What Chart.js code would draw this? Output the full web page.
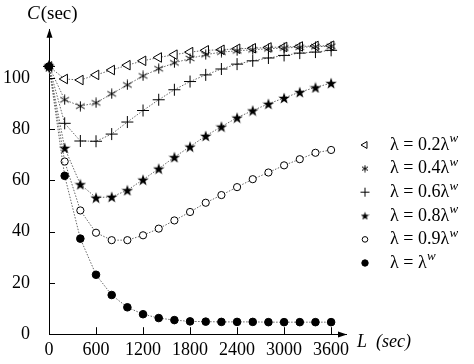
<!DOCTYPE html>
<html>
<head>
<meta charset="utf-8">
<script src="https://cdn.jsdelivr.net/npm/chart.js@4"></script>
<style>
  body { margin: 0; background: #fff; }
  #wrap { width: 474px; height: 364px; }
</style>
</head>
<body>
<div id="wrap"><canvas id="chart" width="474" height="364"></canvas></div>
<script>
/* Cost C vs. period L for several arrival rates */

const L_SEC = [0, 200, 400, 600, 800, 1000, 1200, 1400, 1600, 1800, 2000, 2200, 2400, 2600, 2800, 3000, 3200, 3400, 3600];

const C_02 = [104.5, 99.6, 99.2, 101.2, 103.1, 105.0, 106.7, 108.0, 109.1, 110.1, 110.8, 111.0, 111.4, 111.6, 111.9, 112.1, 112.3, 112.5, 112.6];
const C_04 = [104.5, 91.5, 89.0, 90.3, 93.8, 97.3, 100.8, 103.6, 105.9, 107.6, 109.1, 110.1, 110.6, 111.0, 111.4, 111.7, 112.0, 112.2, 112.4];
const C_06 = [104.5, 82.3, 75.4, 75.3, 78.1, 82.8, 87.3, 91.5, 95.4, 98.6, 101.2, 103.5, 105.4, 106.7, 107.8, 108.8, 109.7, 110.1, 110.8];
const C_08 = [104.5, 72.7, 58.5, 53.3, 53.6, 56.2, 60.3, 64.6, 69.1, 73.2, 77.4, 81.0, 84.5, 87.3, 89.9, 92.2, 94.5, 96.3, 98.0];
const C_09 = [104.5, 67.4, 48.3, 39.6, 36.7, 36.7, 38.6, 41.2, 44.4, 47.7, 51.3, 54.3, 57.4, 60.5, 63.1, 65.9, 68.3, 70.8, 71.9];
const C_10 = [104.5, 61.8, 37.3, 23.2, 15.3, 10.5, 7.8, 6.3, 5.5, 5.0, 4.9, 4.8, 4.8, 4.8, 4.7, 4.7, 4.7, 4.7, 4.7];

const X_TICKS = [0, 600, 1200, 1800, 2400, 3000, 3600];
const Y_TICKS = [0, 20, 40, 60, 80, 100];

const LEGEND_PREFIX = ['λ = 0.2λ', 'λ = 0.4λ', 'λ = 0.6λ', 'λ = 0.8λ', 'λ = 0.9λ', 'λ = λ'];

const SERIF = '"Liberation Serif", "DejaVu Serif", serif';

// little canvases used as custom point styles
function asteriskImg(size) {
    const c = document.createElement('canvas');
    c.width = c.height = size;
    const g = c.getContext('2d');
    const r = size / 2 - 0.5;
    g.strokeStyle = '#000';
    g.lineWidth = 1;
    for (let k = 0; k < 3; k++) {
        const a = Math.PI / 2 + k * Math.PI / 3;
        g.beginPath();
        g.moveTo(size / 2 + r * Math.cos(a), size / 2 + r * Math.sin(a));
        g.lineTo(size / 2 - r * Math.cos(a), size / 2 - r * Math.sin(a));
        g.stroke();
    }
    return c;
}

function starImg(size) {
    const c = document.createElement('canvas');
    c.width = c.height = size;
    const g = c.getContext('2d');
    const R = size / 2, r = R * 0.4, cx = size / 2, cy = size / 2 + R * 0.1;
    g.fillStyle = '#000';
    g.beginPath();
    for (let k = 0; k < 10; k++) {
        const a = -Math.PI / 2 + k * Math.PI / 5;
        const rr = k % 2 ? r : R;
        g.lineTo(cx + rr * Math.cos(a), cy + rr * Math.sin(a));
    }
    g.closePath();
    g.fill();
    return c;
}

const MARKERS = [
    { pointStyle: 'triangle', rotation: -90, radius: 5.5, bg: '#fff', legendRadius: 4 },
    { pointStyle: asteriskImg(11), rotation: 0, radius: 5, bg: '#000', legendStyle: asteriskImg(8) },
    { pointStyle: 'cross', rotation: 0, radius: 6, bg: '#000', legendRadius: 4.5 },
    { pointStyle: starImg(12), rotation: 0, radius: 6, bg: '#000', legendStyle: starImg(9) },
    { pointStyle: 'circle', rotation: 0, radius: 3.6, bg: '#fff', legendRadius: 2.8 },
    { pointStyle: 'circle', rotation: 0, radius: 3.8, bg: '#000', legendRadius: 3.2 },
];

const SERIES = [C_02, C_04, C_06, C_08, C_09, C_10];

function line(ctx, x1, y1, x2, y2) {
    ctx.beginPath();
    ctx.moveTo(x1, y1);
    ctx.lineTo(x2, y2);
    ctx.stroke();
}

const decorPlugin = {
    id: 'decor',
    afterDraw(chart) {
        const ctx = chart.ctx;
        const xs = chart.scales.x, ys = chart.scales.y;
        const a = chart.chartArea;
        ctx.save();
        ctx.strokeStyle = '#000';
        ctx.fillStyle = '#000';
        ctx.lineWidth = 1;

        // inward tick marks
        ys.ticks.forEach(t => {
            if (t.value === 0) return;
            const y = Math.round(ys.getPixelForValue(t.value)) + 0.5;
            line(ctx, a.left, y, a.left + 6, y);
        });
        xs.ticks.forEach(t => {
            if (t.value === 0) return;
            const x = Math.round(xs.getPixelForValue(t.value)) + 0.5;
            line(ctx, x, a.bottom, x, a.bottom - 7);
        });

        // arrow heads
        const ax = Math.round(a.left) + 0.5;
        ctx.beginPath();
        ctx.moveTo(ax, a.top - 1);
        ctx.lineTo(ax - 3, a.top + 8);
        ctx.lineTo(ax + 3, a.top + 8);
        ctx.closePath();
        ctx.fill();
        const ay = Math.round(a.bottom) + 0.5;
        ctx.beginPath();
        ctx.moveTo(a.right + 1, ay);
        ctx.lineTo(a.right - 8, ay - 3);
        ctx.lineTo(a.right - 8, ay + 3);
        ctx.closePath();
        ctx.fill();

        // axis titles
        ctx.textBaseline = 'middle';
        ctx.textAlign = 'left';
        ctx.font = 'italic 19px ' + SERIF;
        ctx.fillText('C', 27, 14);
        const cw = ctx.measureText('C').width;
        ctx.font = '19px ' + SERIF;
        ctx.fillText('(sec)', 27 + cw + 1, 14);
        ctx.font = 'italic 18px ' + SERIF;
        ctx.fillText('L  (sec)', 357, 342);

        // legend
        const lx = 365, tx = 390, y0 = 145, dy = 23.6;
        chart.data.datasets.forEach((ds, i) => {
            const m = MARKERS[i];
            const y = y0 + i * dy;
            ctx.fillStyle = m.bg;
            ctx.strokeStyle = '#000';
            ctx.lineWidth = 1;
            Chart.helpers.drawPoint(ctx, {
                pointStyle: m.legendStyle || m.pointStyle,
                radius: m.legendRadius || 4,
                rotation: m.rotation,
                borderWidth: 1,
            }, lx, y);
            ctx.fillStyle = '#000';
            ctx.font = '18px ' + SERIF;
            ctx.fillText(LEGEND_PREFIX[i], tx, y);
            const w = ctx.measureText(LEGEND_PREFIX[i]).width;
            ctx.font = 'italic 13px ' + SERIF;
            ctx.fillText('w', tx + w + 0.5, y - 6);
        });
        ctx.restore();
    },
};

const datasets = SERIES.map((vals, i) => ({
    label: LEGEND_PREFIX[i] + 'w',
    data: L_SEC.map((x, k) => ({ x, y: vals[k] })),
    order: SERIES.length - i,
    borderColor: '#666',
    borderWidth: 1,
    borderDash: [1.5, 1.5],
    pointStyle: MARKERS[i].pointStyle,
    rotation: MARKERS[i].rotation,
    pointRadius: MARKERS[i].radius,
    pointBackgroundColor: MARKERS[i].bg,
    pointBorderColor: '#000',
    pointBorderWidth: 1,
    tension: 0,
    clip: false,
}));

new Chart(document.getElementById('chart'), {
    type: 'line',
    data: { datasets },
    options: {
        responsive: false,
        animation: false,
        layout: { padding: { left: 0, top: 29, right: 128, bottom: 0 } },
        plugins: { legend: { display: false }, tooltip: { enabled: false } },
        scales: {
            x: {
                type: 'linear',
                min: 0,
                max: 3790,
                afterFit(scale) { scale.height = 26; },
                afterBuildTicks(scale) { scale.ticks = X_TICKS.map(v => ({ value: v })); },
                grid: { display: false, drawTicks: false },
                border: { display: true, color: '#000', width: 1 },
                ticks: {
                    padding: 5,
                    color: '#000',
                    font: { family: SERIF, size: 18 },
                    maxRotation: 0,
                    autoSkip: false,
                    callback: v => String(v),
                },
            },
            y: {
                min: 0,
                max: 118.8,
                afterFit(scale) { scale.width = 49; },
                afterBuildTicks(scale) { scale.ticks = Y_TICKS.map(v => ({ value: v })); },
                grid: { display: false, drawTicks: false },
                border: { display: true, color: '#000', width: 1 },
                ticks: {
                    padding: 19,
                    color: '#000',
                    font: { family: SERIF, size: 18 },
                    callback: v => String(v),
                },
            },
        },
    },
    plugins: [decorPlugin],
});
</script>
</body>
</html>
